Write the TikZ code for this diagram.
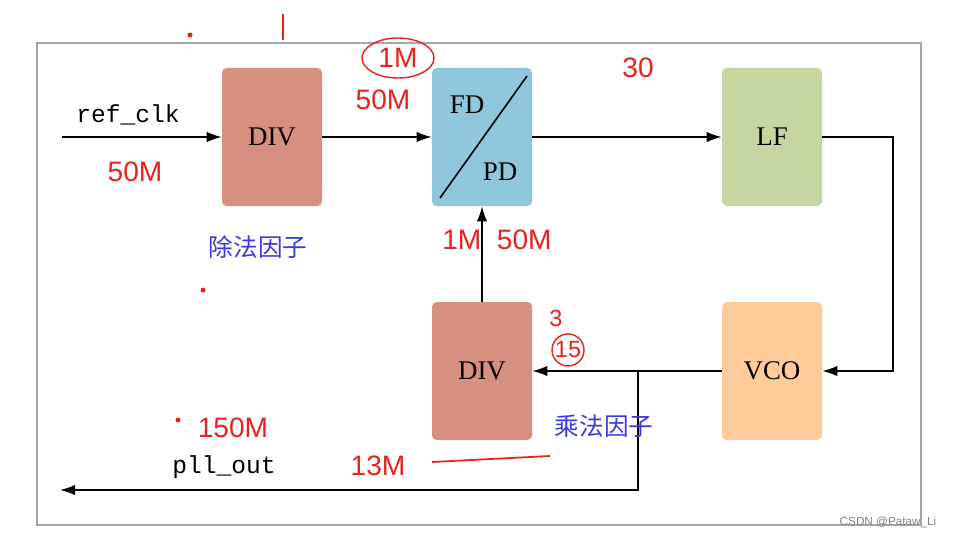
\documentclass[tikz,border=0pt]{standalone}
\usepackage{fontspec}
\setmainfont{Liberation Serif}
\newfontfamily\cjk{Noto Sans CJK SC}
\newfontfamily\hand{Liberation Sans}
\newfontfamily\mono{Liberation Mono}
\usetikzlibrary{arrows.meta}
\definecolor{divc}{HTML}{D6907F}
\definecolor{fdc}{HTML}{8FC8DE}
\definecolor{lfc}{HTML}{C6D6A0}
\definecolor{vcoc}{HTML}{FFCB9B}
\definecolor{bluet}{HTML}{3A3AE0}
\definecolor{redh}{HTML}{E8231E}
\begin{document}
\begin{tikzpicture}[x=0.03cm,y=-0.03cm,
  blk/.style={draw=none,rounded corners=4pt,minimum width=3cm,minimum height=4.14cm,font=\fontsize{23}{25}\selectfont},
  conn/.style={line width=1.4pt,-{Latex[length=13pt,width=9pt]}},
  lab/.style={font=\mono\fontsize{21}{22}\selectfont},
  cn/.style={text=bluet,font=\cjk\fontsize{21}{22}\selectfont},
  red/.style={text=redh,font=\hand\fontsize{24}{24}\selectfont}]
\useasboundingbox (0,0) rectangle (963,538);
\fill[white] (0,0) rectangle (963,538);
\draw[gray!70,line width=1pt] (37,43) rectangle (921,525);
\node[blk,fill=divc] (div1) at (272,137) {DIV};
\node[blk,fill=fdc] (fd) at (482,137) {};
\node[blk,fill=lfc] (lf) at (772,137) {LF};
\node[blk,fill=divc] (div2) at (482,371) {DIV};
\node[blk,fill=vcoc] (vco) at (772,371) {VCO};
\draw[line width=1.4pt] (440,198) -- (527,76);
\node[font=\fontsize{23}{25}\selectfont] (fdt) at (467,105) {FD};
\node[font=\fontsize{23}{25}\selectfont] (pdt) at (500,172) {PD};
\coordinate (in) at (62,137);
\draw[conn] (in) -- (div1);
\node[lab] (rc) at (128,115) {ref\_clk};
\draw[conn] (div1) -- (fd);
\draw[conn] (fd) -- (lf);
\coordinate (r1) at (893,137);
\coordinate (r2) at (893,371);
\draw[conn] (lf.east) -- (r1) -- (r2) -- (vco.east);
\draw[conn] (vco) -- (div2);
\draw[conn] (div2) -- (fd);
\coordinate (b1) at (638,371);
\coordinate (b2) at (638,490);
\coordinate (out) at (60,490);
\draw[conn] (b1) -- (b2) -- (out);
\node[lab] (po) at (224,467) {pll\_out};
\node[cn] (c1) at (258,247) {除法因子};
\node[cn] (c2) at (604,426) {乘法因子};
% handwritten annotations
\node[red] (h1) at (135,172) {50M};
\node[red] (h2) at (398,58) {1M};
\draw[redh,line width=1.2pt] (h2) ellipse (36 and 20);
\node[red] (h3) at (383,100) {50M};
\node[red] (h4) at (638,68) {30};
\node[red] (h5) at (497,240) {1M\ \ 50M};
\node[red,font=\hand\fontsize{20}{20}\selectfont] (h6) at (556,318) {3};
\node[red,font=\hand\fontsize{20}{20}\selectfont] (h7) at (568,350) {15};
\draw[redh,line width=1.2pt] (h7) circle (16);
\node[red] (h8) at (233,428) {150M};
\node[red] (h9) at (378,466) {13M};
\draw[redh,line width=1.5pt] (432,462) -- (550,456);
\fill[redh] (190,35) circle (2.5);
\fill[redh] (203,290) circle (2.5);
\fill[redh] (178,420) circle (2.5);
\draw[redh,line width=1.5pt] (283,14) -- (283,40);
\node[text=gray,font=\hand\fontsize{10}{10}\selectfont] (wm) at (888,522) {CSDN @Pataw\_Li};
\end{tikzpicture}
\end{document}
